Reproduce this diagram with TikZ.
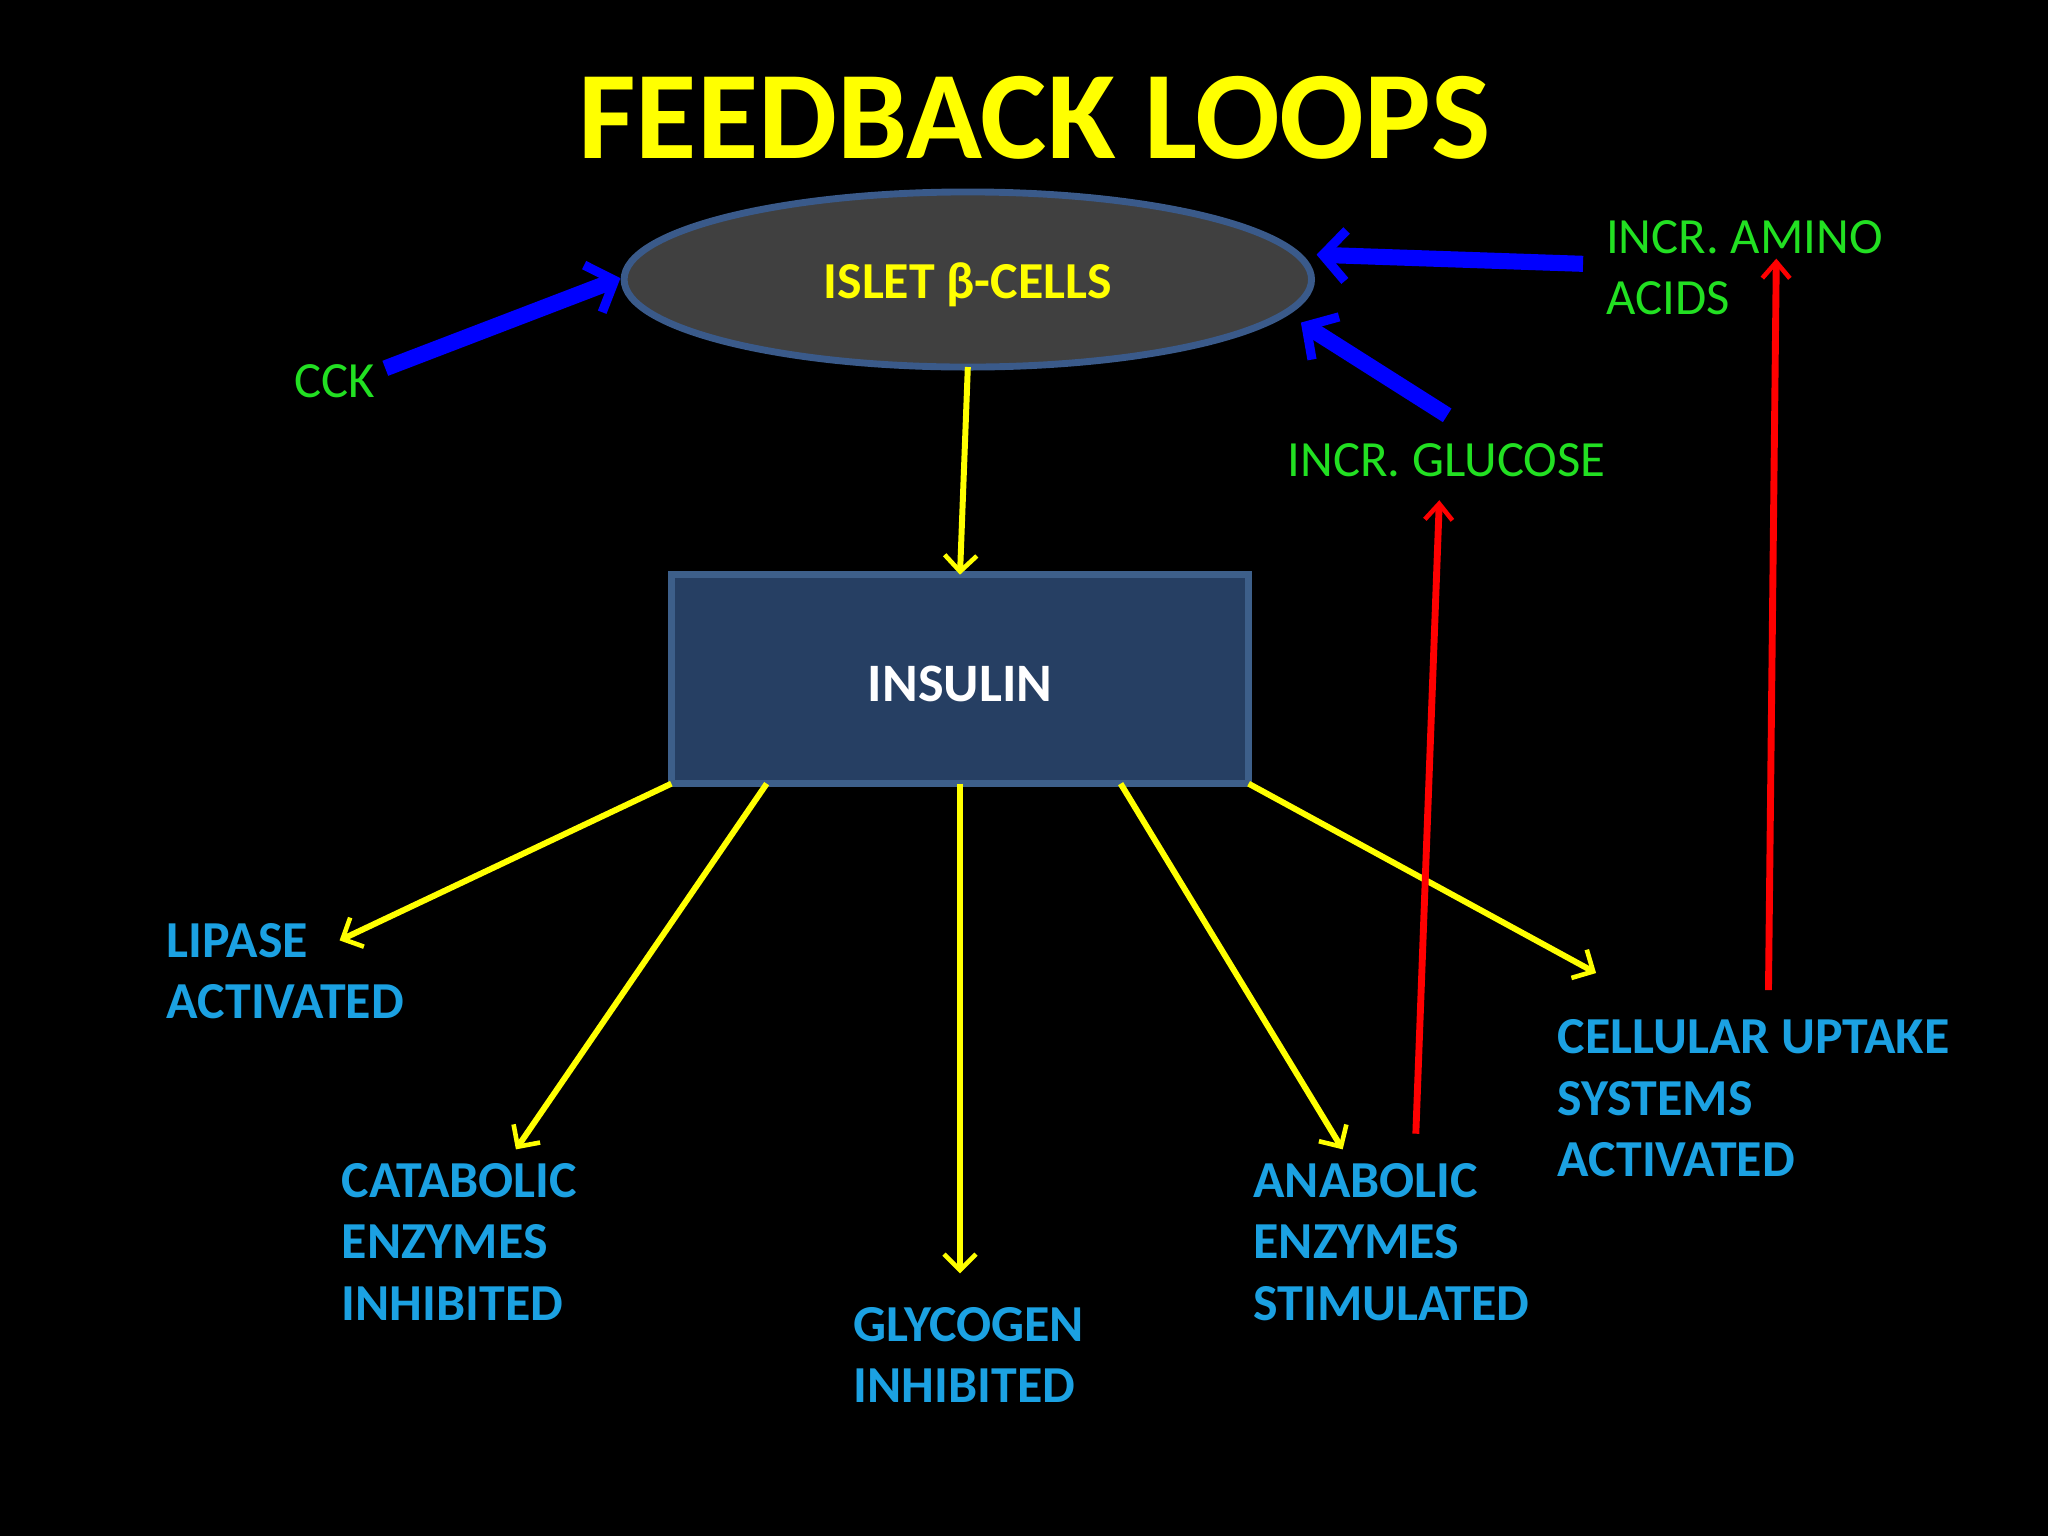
\documentclass[tikz,border=0pt]{standalone}
\usepackage{fontspec}
\setmainfont{Carlito}
\usetikzlibrary{arrows.meta,shapes.geometric}
\definecolor{lblue}{HTML}{1BA1E2}
\definecolor{lgreen}{HTML}{22E022}
\definecolor{ttl}{HTML}{FFFF00}
\begin{document}
\begin{tikzpicture}[x=0.01cm,y=-0.01cm,
  yarr/.style={draw=ttl,line width=1.3pt,-{Straight Barb[length=3.5pt,width=7pt,line width=1pt]}},
  barr/.style={draw=blue,line width=3.5pt,-{Straight Barb[length=5pt,width=11pt,line width=2pt]}},
  rarr/.style={draw=red,line width=1.5pt,-{Straight Barb[length=3.5pt,width=6pt,line width=1pt]}},
  lab/.style={anchor=base west,align=left,font=\fontsize{11.3}{13.4}\selectfont\bfseries,text=lblue,inner sep=0pt},
  glab/.style={anchor=base west,align=left,font=\fontsize{11.05}{13.4}\selectfont,text=lgreen,inner sep=0pt}]
\fill[black] (0,0) rectangle (1568,1176);
\useasboundingbox (0,0) rectangle (1568,1176);
\node[text=ttl,font=\fontsize{27.3}{30}\selectfont\bfseries] (title) at (792,90) {FEEDBACK LOOPS};
\node[ellipse,draw={rgb,255:red,58;green,90;blue,138},line width=1.5pt,fill={rgb,255:red,64;green,64;blue,64},minimum width=5.26cm,minimum height=1.34cm,inner sep=0pt] (islet) at (741,214) {};
\node[text=ttl,font=\fontsize{11.3}{12}\selectfont\bfseries] (islett) at (741,218) {ISLET β-CELLS};
\node[draw={rgb,255:red,61;green,95;blue,138},line width=1.5pt,fill={rgb,255:red,38;green,63;blue,99},minimum width=4.42cm,minimum height=1.6cm,inner sep=0pt] (ins) at (735,520) {};
\node[text=white,font=\fontsize{11.8}{13}\selectfont\bfseries] (inst) at (735,524) {INSULIN};
\node[glab] (cck) at (225,304) {CCK};
\node[glab] (amino) at (1229,241) {INCR. AMINO\\ACIDS};
\node[glab] (gluc) at (985,365) {INCR. GLUCOSE};
\node[lab] (lip) at (127,780) {LIPASE\\ACTIVATED};
\node[lab] (cat) at (261,1011) {CATABOLIC\\ENZYMES\\INHIBITED};
\node[lab] (gly) at (653,1074) {GLYCOGEN\\INHIBITED};
\node[lab] (ana) at (959,1011) {ANABOLIC\\ENZYMES\\STIMULATED};
\node[lab] (cel) at (1192,901) {CELLULAR UPTAKE\\SYSTEMS\\ACTIVATED};
\coordinate (e1) at (741,281); \coordinate (e2) at (735,440);
\draw[yarr] (e1) -- (e2);
\coordinate (b1) at (514,600); \coordinate (t1) at (260,720);
\coordinate (b2) at (587,600); \coordinate (t2) at (395,880);
\coordinate (b3) at (735,600); \coordinate (t3) at (735,975);
\coordinate (b4) at (858,600); \coordinate (t4) at (1028,880);
\coordinate (b5) at (956,600); \coordinate (t5) at (1222,745);
\foreach \i in {1,...,5} \draw[yarr] (b\i) -- (t\i);
\coordinate (c1) at (295,282); \coordinate (c2) at (475,213);
\coordinate (a1) at (1212,202); \coordinate (a2) at (1008,195);
\coordinate (g1) at (1108,318); \coordinate (g2) at (996,247);
\draw[barr] (c1) -- (c2);
\draw[barr] (a1) -- (a2);
\draw[barr] (g1) -- (g2);
\coordinate (r1) at (1084,868); \coordinate (r2) at (1102,383);
\coordinate (s1) at (1354,758); \coordinate (s2) at (1360,198);
\draw[rarr] (r1) -- (r2);
\draw[rarr] (s1) -- (s2);
\end{tikzpicture}
\end{document}
